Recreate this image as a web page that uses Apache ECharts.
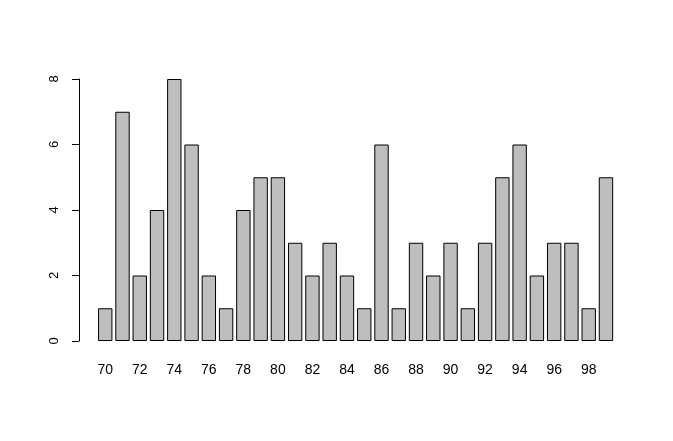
<!DOCTYPE html>
<html><head><meta charset="utf-8">
<script src="https://cdn.jsdelivr.net/npm/echarts@6/dist/echarts.min.js"></script>
<style>html,body{margin:0;padding:0;background:#fff}#c{width:673px;height:441px}</style>
</head><body><div id="c"></div>
<script>
const categories = ['70','71','72','73','74','75','76','77','78','79','80','81','82','83','84','85','86','87','88','89','90','91','92','93','94','95','96','97','98','99'];
const values = [1,7,2,4,8,6,2,1,4,5,5,3,2,3,2,1,6,1,3,2,3,1,3,5,6,2,3,3,1,5];
const yTicks = [0,2,4,6,8];
const chart = echarts.init(document.getElementById('c'));
chart.setOption({
  animation:false,
  grid:{left:96.6,top:79,width:518,height:262},
  xAxis:{type:'category',data:categories,axisLine:{show:false},axisTick:{show:false},
    axisLabel:{interval:1,margin:22,fontFamily:'Liberation Sans, Arial',fontSize:14,color:'#000'}},
  yAxis:{type:'value',min:yTicks[0],max:yTicks[yTicks.length-1],interval:2,offset:17.6,splitLine:{show:false},
    axisLine:{show:true,lineStyle:{color:'#000'}},axisTick:{show:true,length:7,lineStyle:{color:'#000'}},
    axisLabel:{rotate:90,margin:18,fontFamily:'Liberation Sans, Arial',fontSize:13,color:'#000'}},
  series:[{type:'bar',data:values,barCategoryGap:'16.7%',
    itemStyle:{color:'#bebebe',borderColor:'#000',borderWidth:1}}]
});
</script></body></html>
